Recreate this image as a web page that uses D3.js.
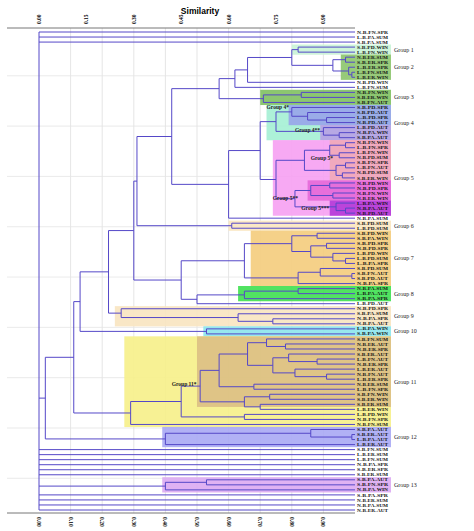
<!DOCTYPE html>
<html><head><meta charset="utf-8">
<script src="https://cdn.jsdelivr.net/npm/d3@7"></script>
<style>body{margin:0;background:#fff}</style></head>
<body><svg id="c" width="474" height="531"></svg>
<script>
const leafLabels = [
"N-B-FN-SPR","L-B-PA-SUM","S-B-PA-SUM","S-B-PD-WIN","L-B-FN-WIN",
"N-B-ER-SUM","S-B-ER-SPR","L-B-ER-SPR","L-B-FN-SUM","L-B-ER-WIN",
"N-B-PD-WIN","L-B-FN-SUM","N-B-FN-WIN","S-B-ER-WIN","S-B-FN-AUT",
"S-B-PD-SPR","S-B-PD-AUT","L-B-PD-SPR","N-B-PD-AUT","L-B-PD-AUT",
"N-B-PA-WIN","S-B-PA-AUT",
"N-B-FN-WIN","L-B-FN-SPR","L-B-FN-WIN","N-B-PD-SUM","S-B-FN-SPR","L-B-FN-AUT","N-B-PD-SUM","S-B-ER-WIN",
"N-B-PD-WIN","N-B-PD-SPR","N-B-FN-WIN","N-B-ER-WIN",
"L-B-PA-WIN","N-B-PA-AUT","N-B-PD-AUT",
"N-B-PA-SUM",
"S-B-PD-SUM","L-B-PD-SUM",
"S-B-PD-WIN","S-B-PA-WIN","S-B-PD-SPR","N-B-PD-SPR","L-B-PD-WIN","L-B-PD-SUM","L-B-PA-SPR","S-B-PD-SUM","S-B-FN-AUT","S-B-PD-AUT","N-B-PA-SPR",
"N-B-PA-SUM","L-B-PA-AUT","S-B-PA-SPR",
"L-B-PD-AUT",
"N-B-PD-SPR","S-B-PA-SUM","N-B-PA-SPR","N-B-PA-AUT",
"L-B-PA-WIN","S-B-PA-WIN",
"S-B-FN-SUM","N-B-ER-AUT","N-B-ER-SPR","S-B-ER-AUT","L-B-FN-AUT","N-B-ER-SPR","L-B-ER-AUT","N-B-FN-AUT","L-B-ER-SPR","N-B-ER-SUM","L-B-FN-SPR","S-B-FN-WIN","S-B-ER-WIN","S-B-ER-SUM","L-B-ER-WIN","L-B-PD-WIN","N-B-FN-SPR","N-B-FN-SUM",
"S-B-PA-AUT","S-B-ER-AUT","L-B-PA-AUT","L-B-ER-AUT",
"S-B-FN-SUM","L-B-ER-SUM","L-B-FN-SUM","N-B-PA-SPR","S-B-ER-SPR","S-B-ER-SUM",
"S-B-PA-AUT","S-B-FN-SPR","N-B-PA-WIN",
"S-B-PA-SPR","N-B-ER-SUM","N-B-PA-SUM","N-B-ER-AUT"];

// merge tree: [similarity, ...children]; numbers = leaf index (1-based)
const G1=[0.82,4,5];
const G2=[0.93,[0.97,6,7],[0.98,8,[0.99,9,10]]];
const A=[0.57,[0.62,[0.66,[0.80,G1,G2],11],12],[0.71,[0.83,13,14],15]];
const G4=[0.75,[0.80,16,[0.85,17,[0.91,18,19]]],[0.90,20,[0.95,21,22]]];
const G5=[0.75,[0.84,[0.92,[0.97,23,24],[0.95,25,26]],[0.94,[0.97,27,28],[0.96,29,30]]],
              [0.81,[0.86,[0.92,31,32],[0.93,33,34]],[0.94,35,[0.97,36,37]]]];
const B=[0.60,[0.70,G4,G5],38];
const C=[0.31,[0.42,A,B],[0.61,39,40]];
const G7=[0.65,[0.80,[0.88,41,42],[0.86,[0.91,43,44],[0.93,45,[0.97,46,47]]]],[0.82,[0.89,48,[0.99,49,50]],51]];
const D=[0.45,G7,[0.50,[0.65,[0.82,52,53],54],55]];
const G9=[0.26,56,[0.63,57,[0.74,58,59]]];
const G10=[0.53,60,61];
const G11=[0.29,[0.45,[0.51,[0.57,[0.66,[0.72,62,[0.78,63,64]],[0.74,[0.79,65,[0.88,66,67]],[0.81,68,[0.91,69,70]]]],[0.68,71,72]],
                 [0.65,[0.73,73,74],[0.70,75,76]]],[0.65,77,78]],79];
const G12=[0.40,[0.86,80,[0.99,81,82]],83];
const G13=[0.40,[0.53,90,91],92];
const tree=[0,1,2,3,[0.02,[0.11,[0.13,[0.22,[0.30,C,D],G9],G10],G11],G12],84,85,86,87,88,89,G13,93,94,95,96];

// shaded groups: [label, firstLeaf, lastLeaf, startSim, colour]
const groups=[
["Group 1",4,5,0.80,"#c9f3d6"],["Group 2",6,10,0.955,"#8cc46c"],["Group 3",13,15,0.70,"#80c060"],
["Group 4",16,22,0.72,"#a4f0d4"],["",16,19,0.79,"#98a4ea"],["",20,22,0.89,"#b8a0e6"],
["Group 5",23,37,0.74,"#f6a0f2"],["",23,30,0.92,"#f0a8b8"],["",31,34,0.85,"#e468d8"],["",35,37,0.92,"#b438d8"],
["Group 6",39,40,0.60,"#fbe6c0"],["Group 7",41,51,0.67,"#f4cc7c"],["Group 8",52,54,0.63,"#3ee050"],
["Group 9",56,59,0.24,"#f8e4c0"],["Group 10",60,61,0.52,"#8ce6ec"],
["Group 11",62,79,0.27,"#f6ef88"],["",62,75,0.50,"#dcbf84"],
["Group 12",80,83,0.39,"#a8a8f4"],["Group 13",90,92,0.39,"#dcaaf2"]];
const subLabels=[["Group 4*",16,0.72],["Group 4**",20.5,0.81],["Group 5*",26,0.86],["Group 5**",34,0.74],["Group 5***",36,0.83],["Group 11*",71,0.42]];
const topTicks=[0,0.15,0.30,0.45,0.60,0.75,0.90];
const botTicks=[0,0.1,0.2,0.3,0.4,0.5,0.6,0.7,0.8,0.9];

const svg=d3.select("#c");
const x=d3.scaleLinear().domain([0,1]).range([39,355]);
const y=d3.scaleLinear().domain([1,96]).range([32,510]);
const serif="'Liberation Serif','DejaVu Serif',serif";

svg.append("g").selectAll("line").data(d3.range(0.1,1,0.1)).join("line")
 .attr("x1",d=>x(d)).attr("x2",d=>x(d)).attr("y1",28).attr("y2",513).attr("stroke","#dedede").attr("stroke-width",0.8);
svg.append("g").selectAll("line").data(d3.range(10,96,10)).join("line")
 .attr("x1",7).attr("x2",355).attr("y1",d=>y(d)-1.5).attr("y2",d=>y(d)-1.5).attr("stroke","#e4e4e4").attr("stroke-width",0.8);

svg.append("g").selectAll("rect").data(groups).join("rect")
 .attr("x",d=>x(d[3])).attr("y",d=>y(d[1])-2.6).attr("width",d=>391-x(d[3]))
 .attr("height",d=>y(d[2])-y(d[1])+5.2).attr("fill",d=>d[4]).attr("opacity",0.9);

const links=[];
function lay(n){
  if(typeof n==="number") return {x:x(1),y:y(n)};
  const kids=n.slice(1).map(lay);
  const nx=x(n[0]);
  const ys=kids.map(k=>k.y);
  links.push([nx,d3.min(ys),nx,d3.max(ys)]);
  kids.forEach(k=>links.push([nx,k.y,k.x,k.y]));
  return {x:nx,y:(kids[0].y+kids[kids.length-1].y)/2};
}
lay(tree);
svg.append("g").selectAll("line").data(links).join("line")
 .attr("x1",d=>d[0]).attr("y1",d=>d[1]).attr("x2",d=>d[2]).attr("y2",d=>d[3])
 .attr("stroke","#5548c8").attr("stroke-width",1);

svg.append("g").selectAll("text").data(leafLabels).join("text")
 .attr("x",357).attr("y",(d,i)=>y(i+1)+1.6).text(d=>d)
 .attr("textLength",31).attr("lengthAdjust","spacingAndGlyphs")
 .attr("font-family",serif).attr("font-weight","bold").attr("font-size",4.6).attr("fill","#111");

svg.append("g").selectAll("text").data(groups.filter(g=>g[0])).join("text")
 .attr("x",394).attr("y",d=>(y(d[1])+y(d[2]))/2+2).text(d=>d[0])
 .attr("font-family",serif).attr("font-size",6).attr("fill","#222");
svg.append("g").selectAll("text").data(subLabels).join("text")
 .attr("x",d=>x(d[2])).attr("y",d=>y(d[1])+2).text(d=>d[0])
 .attr("font-family",serif).attr("font-weight","bold").attr("font-size",5.5).attr("fill","#222");

svg.append("line").attr("x1",7).attr("x2",355).attr("y1",28).attr("y2",28).attr("stroke","#777");
svg.append("line").attr("x1",7).attr("x2",355).attr("y1",513).attr("y2",513).attr("stroke","#777");
svg.append("g").selectAll("text").data(topTicks).join("text")
 .attr("transform",d=>`translate(${x(d)+2},24) rotate(-90)`).text(d=>d.toFixed(2))
 .attr("font-family",serif).attr("font-weight","bold").attr("font-size",5.5);
svg.append("g").selectAll("text").data(botTicks).join("text")
 .attr("transform",d=>`translate(${x(d)-2},517) rotate(90)`).text(d=>d.toFixed(2))
 .attr("font-family",serif).attr("font-weight","bold").attr("font-size",5.5);
svg.append("text").attr("x",200).attr("y",14).attr("text-anchor","middle").text("Similarity")
 .attr("font-family","'Liberation Sans',Arial,sans-serif").attr("font-weight","bold").attr("font-size",8.5);
</script></body></html>
